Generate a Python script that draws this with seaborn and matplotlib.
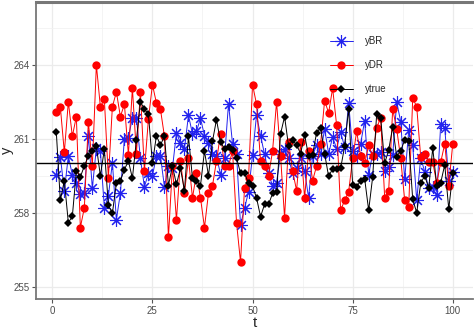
import matplotlib
matplotlib.use("Agg")
import matplotlib.pyplot as plt
import seaborn as sns
import numpy as np
import pandas as pd

t = list(range(1, 101))

yBR = [259.53, 260.28, 258.88, 260.30, 259.53, 259.20, 258.75, 258.80, 261.12, 259.00,
       260.63, 260.50, 258.20, 258.68, 260.03, 257.72, 258.80, 261.00, 261.05, 261.85,
       261.85, 260.20, 259.05, 259.60, 259.50, 260.30, 260.30, 259.05, 259.90, 259.80,
       261.25, 260.82, 260.60, 261.95, 261.20, 261.30, 261.83, 261.13, 260.82, 260.40,
       260.30, 259.55, 260.20, 262.43, 260.80, 260.40, 257.50, 258.18, 258.85, 260.33,
       261.97, 261.13, 260.37, 259.60, 259.08, 259.20, 260.40, 260.60, 260.20, 259.60,
       259.80, 260.20, 259.70, 258.60, 260.30, 260.76, 260.40, 261.40, 260.40, 261.07,
       260.60, 261.27, 260.66, 262.47, 260.50, 260.30, 260.80, 261.74, 259.55, 260.40,
       260.40, 260.46, 259.70, 259.86, 260.33, 262.48, 261.70, 259.35, 261.34, 260.73,
       258.50, 260.23, 259.66, 259.00, 259.03, 258.70, 261.60, 261.45, 259.30, 259.66]

yDR = [262.10, 262.30, 260.45, 262.50, 261.10, 261.90, 257.40, 258.20, 261.70, 259.90,
       264.00, 262.30, 262.60, 259.40, 262.30, 262.90, 261.90, 262.40, 260.35, 263.05,
       260.40, 262.90, 259.70, 261.80, 263.20, 262.45, 262.20, 261.10, 257.00, 259.90,
       257.70, 260.10, 258.80, 260.20, 258.60, 259.60, 258.60, 257.40, 258.80, 259.10,
       260.10, 261.20, 259.90, 259.90, 260.50, 257.60, 256.00, 259.00, 259.40, 263.20,
       262.40, 260.10, 259.90, 259.50, 260.50, 262.50, 260.30, 257.80, 260.85, 259.70,
       258.90, 260.85, 258.60, 260.50, 259.30, 259.90, 260.80, 262.55, 262.05, 263.05,
       261.55, 258.10, 258.50, 258.85, 260.20, 261.30, 260.30, 260.00, 260.75, 260.30,
       261.45, 261.85, 258.60, 258.90, 262.20, 261.40, 260.20, 258.50, 258.25, 262.65,
       262.30, 260.25, 260.40, 260.05, 260.05, 259.20, 260.05, 260.80, 259.10, 260.80]

ytrue = [261.27, 258.50, 259.30, 257.60, 257.85, 259.70, 259.45, 259.90, 260.30, 260.50,
         260.70, 259.50, 260.57, 258.30, 257.97, 259.20, 259.30, 259.75, 260.10, 259.40,
         260.95, 262.50, 262.20, 262.00, 260.00, 261.13, 260.73, 261.13, 259.10, 259.90,
         259.15, 259.80, 258.90, 261.10, 259.40, 259.30, 259.10, 260.50, 259.50, 260.90,
         261.78, 260.87, 260.60, 260.66, 260.53, 260.23, 259.60, 259.60, 259.20, 259.08,
         258.60, 257.84, 258.34, 258.34, 258.78, 258.85, 261.20, 261.90, 260.70, 260.95,
         260.75, 260.40, 261.16, 260.30, 260.35, 261.25, 261.45, 260.40, 259.47, 259.78,
         259.78, 259.80, 260.70, 262.22, 259.12, 259.05, 259.30, 259.38, 258.10, 259.45,
         262.00, 261.85, 260.00, 260.55, 261.47, 260.28, 260.52, 260.95, 260.90, 258.54,
         258.00, 259.20, 259.50, 259.00, 260.62, 259.10, 259.22, 259.95, 258.15, 259.60]

h_level = 260.0
x_ticks = [0, 25, 50, 75, 100]
y_ticks = [255, 258, 261, 264]

sns.set_theme(style="whitegrid")
plt.rcParams['font.family'] = ['Liberation Sans', 'DejaVu Sans']

fig = plt.figure(figsize=(4.74, 3.30), dpi=100)
ax = fig.add_axes([0.077, 0.094, 0.92, 0.900])

sns.lineplot(x=t, y=yBR, ax=ax, color='#2222EE', linewidth=0.7,
             marker=(8, 2, 0), markersize=9, markeredgewidth=0.8,
             markeredgecolor='#2222EE', label='yBR')
sns.lineplot(x=t, y=yDR, ax=ax, color='#FF0000', linewidth=0.7,
             marker='o', markersize=6, markeredgewidth=0,
             label='yDR')
sns.lineplot(x=t, y=ytrue, ax=ax, color='black', linewidth=0.7,
             marker='D', markersize=4.2, markeredgewidth=0,
             label='ytrue')
ax.axhline(h_level, color='black', linewidth=1.0)

ax.set_xlim(-3.95, 104.95)
ax.set_ylim(254.5, 266.55)
ax.set_xticks(x_ticks)
ax.set_yticks(y_ticks)
ax.set_xticks([12.5, 37.5, 62.5, 87.5], minor=True)
ax.set_yticks([256.5, 259.5, 262.5, 265.5], minor=True)
ax.grid(True, which='major', color='#EBEBEB', linewidth=0.9)
ax.grid(True, which='minor', color='#F2F2F2', linewidth=0.6)
ax.set_facecolor('white')

ax.tick_params(axis='both', which='major', labelsize=7, labelcolor='#4D4D4D',
               color='#555555', length=3, width=0.8, pad=2, bottom=True, left=True)
ax.tick_params(axis='both', which='minor', length=0)
ax.set_xlabel('t', fontsize=11, labelpad=0)
ax.set_ylabel('y', fontsize=10.5)
ax.yaxis.set_label_coords(-0.052, 0.5)

for side in ['left', 'bottom', 'top']:
    ax.spines[side].set_visible(True)
    ax.spines[side].set_color('#777777')
    ax.spines[side].set_linewidth(1.3)
ax.spines['top'].set_linewidth(2.2)
ax.spines['right'].set_visible(False)

leg = ax.legend(loc='upper left', bbox_to_anchor=(0.672, 0.885), frameon=False,
                fontsize=7, handlelength=2.4, labelspacing=1.45, handletextpad=1.2,
                borderaxespad=0.0, borderpad=0.0)

fig.savefig('out.png', dpi=100, facecolor='white')
